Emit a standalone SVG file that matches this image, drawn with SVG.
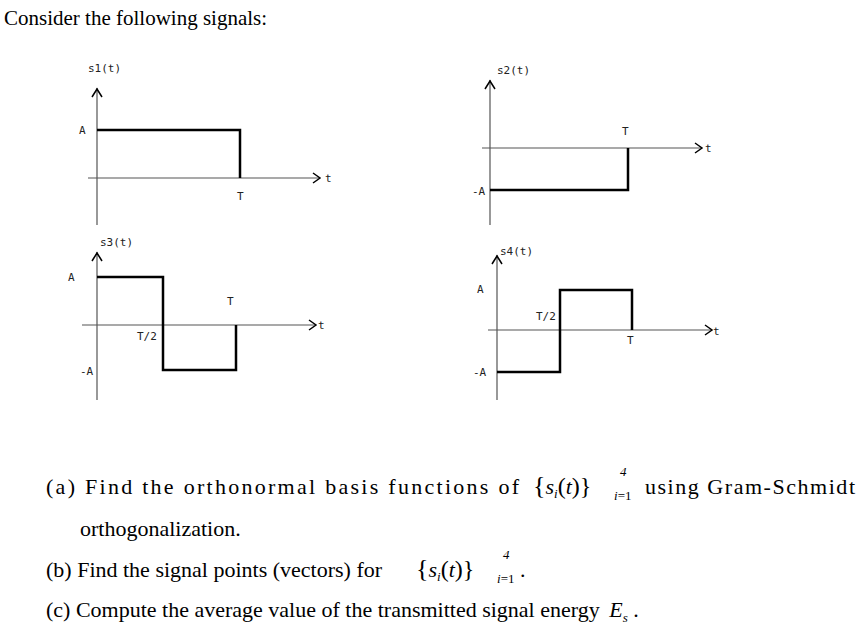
<svg xmlns="http://www.w3.org/2000/svg" width="865" height="632" viewBox="0 0 865 632">
<style>
.ax{stroke:#555;stroke-width:1.2;fill:none}
.sg{stroke:#000;stroke-width:2.5;fill:none}
.ar{stroke:#000;stroke-width:1.5;fill:none}
.lb{font-family:"DejaVu Sans Mono",monospace;font-size:11px;fill:#222}
.tx{font-family:"Liberation Serif",serif;font-size:22px;fill:#000}
.sm{font-family:"Liberation Serif",serif;font-size:13px;fill:#000}
.it{font-style:italic}
</style>
<rect width="865" height="632" fill="#fff"/>
<text class="tx" x="4" y="25" style="font-size:21px">Consider the following signals:</text>
<g id="s1">
<path class="ax" d="M97 88V225M88 178H320"/>
<path class="ar" d="M92 97L97 89L102 97M313 173L320 178L313 183"/>
<path class="sg" d="M97 130H240V178"/>
<text class="lb" x="88" y="72">s1(t)</text><text class="lb" x="79" y="134">A</text>
<text class="lb" x="237" y="200">T</text><text class="lb" x="325" y="182">t</text>
</g>
<g id="s2">
<path class="ax" d="M490 80V225M482 148H702"/>
<path class="ar" d="M485 89L490 81L495 89M695 143L702 148L695 153"/>
<path class="sg" d="M490 190H628V148"/>
<text class="lb" x="497" y="74">s2(t)</text><text class="lb" x="622" y="135">T</text>
<text class="lb" x="472" y="195">-A</text><text class="lb" x="705" y="152">t</text>
</g>
<g id="s3">
<path class="ax" d="M97 252V400M82 325H316"/>
<path class="ar" d="M92 261L97 253L102 261M309 320L316 325L309 330"/>
<path class="sg" d="M97 277H163V370H236V325"/>
<text class="lb" x="100" y="246">s3(t)</text><text class="lb" x="68" y="281">A</text>
<text class="lb" x="227" y="305">T</text><text class="lb" x="137" y="340">T/2</text>
<text class="lb" x="80" y="375">-A</text><text class="lb" x="318" y="329">t</text>
</g>
<g id="s4">
<path class="ax" d="M497 255V400M488 330H712"/>
<path class="ar" d="M492 264L497 256L502 264M705 325L712 330L705 335"/>
<path class="sg" d="M497 372H560V290H632V330"/>
<text class="lb" x="500" y="255">s4(t)</text><text class="lb" x="477" y="293">A</text>
<text class="lb" x="536" y="320">T/2</text><text class="lb" x="627" y="344">T</text>
<text class="lb" x="473" y="376">-A</text><text class="lb" x="713" y="335">t</text>
</g>
<text class="tx" x="46" y="494" textLength="473" lengthAdjust="spacing">(a) Find the orthonormal basis functions of</text>
<text class="tx" x="533" y="494"><tspan style="font-size:26px">{</tspan><tspan class="it">s</tspan><tspan class="it" style="font-size:13px" dy="4">i</tspan><tspan dy="-4" style="font-size:24px">(</tspan><tspan class="it">t</tspan><tspan style="font-size:24px">)}</tspan></text>
<text class="sm it" x="620" y="476">4</text>
<text class="sm" x="614" y="500"><tspan class="it">i</tspan>=1</text>
<text class="tx" x="645" y="494" textLength="210" lengthAdjust="spacing">using Gram-Schmidt</text>
<text class="tx" x="80" y="536">orthogonalization.</text>
<text class="tx" x="46" y="577">(b) Find the signal points (vectors) for</text>
<text class="tx" x="416" y="577"><tspan style="font-size:26px">{</tspan><tspan class="it">s</tspan><tspan class="it" style="font-size:13px" dy="4">i</tspan><tspan dy="-4" style="font-size:24px">(</tspan><tspan class="it">t</tspan><tspan style="font-size:24px">)}</tspan></text>
<text class="sm it" x="503" y="559">4</text>
<text class="sm" x="497" y="583"><tspan class="it">i</tspan>=1</text>
<text class="tx" x="520" y="577">.</text>
<text class="tx" x="46" y="617">(c) Compute the average value of the transmitted signal energy <tspan class="it" dx="4">E</tspan><tspan class="it" style="font-size:13px" dy="5">s</tspan><tspan dy="-5"> .</tspan></text>
</svg>
